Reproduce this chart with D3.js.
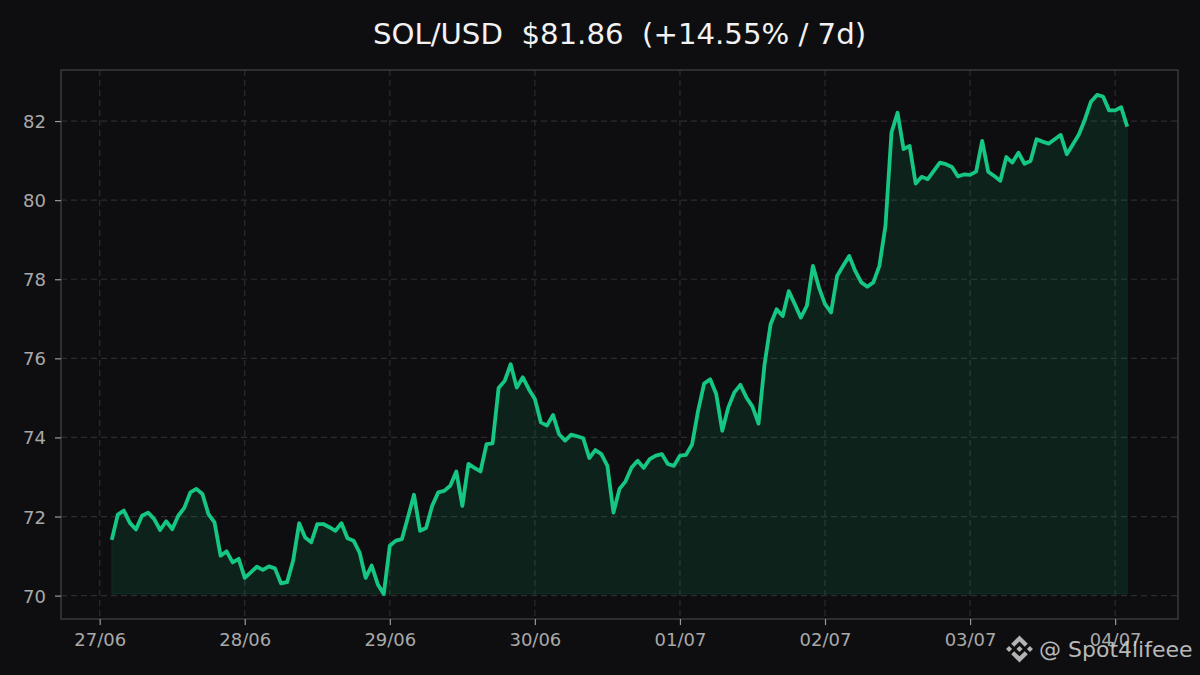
<!DOCTYPE html>
<html>
<head>
<meta charset="utf-8">
<script src="https://cdn.jsdelivr.net/npm/d3@7"></script>
<style>
  html, body { margin: 0; padding: 0; background: #0e0e10; }
  svg { display: block; }
</style>
</head>
<body>
<svg id="chart" width="1200" height="675"></svg>
<script>
// ---------- data ----------
const titleText = "SOL/USD  $81.86  (+14.55% / 7d)";
const watermarkText = "@ Spot4lifeee";
const startTime = "2025-06-27T02:00:00";   // first hourly sample
const stepHours = 1;
const prices = [
  71.41, 72.05, 72.15, 71.84, 71.67, 72.02, 72.10, 71.94, 71.66, 71.88,
  71.68, 72.02, 72.22, 72.61, 72.70, 72.57, 72.06, 71.85, 71.01, 71.12,
  70.84, 70.93, 70.45, 70.59, 70.73, 70.65, 70.74, 70.69, 70.31, 70.34,
  70.88, 71.83, 71.47, 71.35, 71.81, 71.81, 71.73, 71.64, 71.83, 71.45,
  71.39, 71.09, 70.45, 70.76, 70.29, 70.04, 71.26, 71.39, 71.43, 71.98,
  72.55, 71.64, 71.71, 72.27, 72.61, 72.65, 72.78, 73.14, 72.27, 73.33,
  73.23, 73.14, 73.83, 73.85, 75.25, 75.43, 75.85, 75.26, 75.52, 75.22,
  74.97, 74.38, 74.30, 74.57, 74.08, 73.92, 74.07, 74.03, 73.98, 73.48,
  73.68, 73.58, 73.28, 72.10, 72.70, 72.89, 73.24, 73.41, 73.23, 73.45,
  73.54, 73.58, 73.33, 73.28, 73.54, 73.56, 73.82, 74.67, 75.36, 75.47,
  75.10, 74.17, 74.76, 75.14, 75.33, 75.01, 74.78, 74.35, 75.85, 76.86,
  77.24, 77.07, 77.70, 77.37, 77.03, 77.33, 78.34, 77.79, 77.37, 77.16,
  78.08, 78.34, 78.59, 78.21, 77.92, 77.81, 77.92, 78.34, 79.35, 81.71,
  82.21, 81.29, 81.37, 80.42, 80.59, 80.53, 80.74, 80.95, 80.91, 80.84,
  80.60, 80.65, 80.64, 80.72, 81.50, 80.72, 80.61, 80.49, 81.09, 80.95,
  81.20, 80.92, 80.99, 81.54, 81.48, 81.43, 81.54, 81.65, 81.16, 81.41,
  81.66, 82.04, 82.49, 82.66, 82.62, 82.27, 82.27, 82.35, 81.86
];
const yTicks = [70, 72, 74, 76, 78, 80, 82];
const xTickDates = ["2025-06-27", "2025-06-28", "2025-06-29", "2025-06-30",
                    "2025-07-01", "2025-07-02", "2025-07-03", "2025-07-04"];
const xTickLabels = ["27/06", "28/06", "29/06", "30/06", "01/07", "02/07", "03/07", "04/07"];

// ---------- build series ----------
const t0 = new Date(startTime);
const series = prices.map((p, i) => ({ t: new Date(t0.getTime() + i * stepHours * 3600e3), v: p }));

// ---------- layout ----------
const W = 1200, H = 675;
const plot = { left: 61, right: 1178, top: 70, bottom: 619 };
const lineColor = "#16c784";
const FONT = "'DejaVu Sans', sans-serif";

const svg = d3.select("#chart");
svg.append("rect").attr("width", W).attr("height", H).attr("fill", "#0e0e10");

// scales with 5% margins (matplotlib-like)
const tExt = d3.extent(series, d => d.t);
const tPad = (tExt[1] - tExt[0]) * 0.05;
const x = d3.scaleTime()
  .domain([new Date(+tExt[0] - tPad), new Date(+tExt[1] + tPad)])
  .range([plot.left, plot.right]);
const vExt = d3.extent(series, d => d.v);
const vPad = (vExt[1] - vExt[0]) * 0.05;
const y = d3.scaleLinear()
  .domain([vExt[0] - vPad, vExt[1] + vPad])
  .range([plot.bottom, plot.top]);

const xTicks = xTickDates.map(s => new Date(s + "T00:00:00"));

// grid
const grid = svg.append("g");
grid.selectAll("line.h").data(yTicks).join("line")
  .attr("x1", plot.left).attr("x2", plot.right)
  .attr("y1", d => y(d)).attr("y2", d => y(d))
  .attr("stroke", "#2c2c30").attr("stroke-width", 1.2).attr("stroke-dasharray", "6,4");
grid.selectAll("line.v").data(xTicks).join("line")
  .attr("x1", d => x(d)).attr("x2", d => x(d))
  .attr("y1", plot.top).attr("y2", plot.bottom)
  .attr("stroke", "#2c2c30").attr("stroke-width", 1.2).attr("stroke-dasharray", "6,4");

// area down to the minimum
const baseV = vExt[0];
const area = d3.area().x(d => x(d.t)).y0(y(baseV)).y1(d => y(d.v));
svg.append("path").datum(series)
  .attr("d", area)
  .attr("fill", lineColor).attr("fill-opacity", 0.11)
  .attr("stroke", lineColor).attr("stroke-opacity", 0.12).attr("stroke-width", 1);

// line
const line = d3.line().x(d => x(d.t)).y(d => y(d.v));
svg.append("path").datum(series)
  .attr("d", line)
  .attr("fill", "none").attr("stroke", lineColor)
  .attr("stroke-width", 3.8).attr("stroke-linejoin", "round").attr("stroke-linecap", "butt");

// frame
svg.append("rect")
  .attr("x", plot.left).attr("y", plot.top)
  .attr("width", plot.right - plot.left).attr("height", plot.bottom - plot.top)
  .attr("fill", "none").attr("stroke", "#3a3a3d").attr("stroke-width", 1.5);

// axes
const yAxis = d3.axisLeft(y).tickValues(yTicks).tickSize(6).tickPadding(9).tickFormat(d3.format("d"));
const gy = svg.append("g").attr("transform", `translate(${plot.left},0)`).call(yAxis);
const xAxis = d3.axisBottom(x).tickValues(xTicks).tickSize(6).tickPadding(8)
  .tickFormat((d, i) => xTickLabels[i]);
const gx = svg.append("g").attr("transform", `translate(0,${plot.bottom})`).call(xAxis);
[gx, gy].forEach(g => {
  g.select(".domain").remove();
  g.selectAll(".tick line").attr("stroke", "#9a9a9a").attr("stroke-width", 1.2);
  g.selectAll(".tick text").attr("fill", "#a9a9a9")
    .style("font-family", FONT).style("font-size", "18px");
});
gy.selectAll(".tick text").attr("dy", "0.36em");
gx.selectAll(".tick text").attr("dy", "0.73em");

// title
svg.append("text")
  .attr("x", (plot.left + plot.right) / 2).attr("y", 44)
  .attr("text-anchor", "middle")
  .attr("fill", "#f2f2f2")
  .attr("xml:space", "preserve")
  .style("white-space", "pre")
  .style("font-family", FONT).style("font-size", "29.2px")
  .text(titleText);

// watermark
const wm = svg.append("g").attr("opacity", 0.85);
wm.append("path")
  .attr("transform", "translate(1006,635.5) scale(0.213)")
  .attr("fill", "#d0d0d0")
  .attr("d", "M38.73 53.2l24.59-24.58 24.6 24.6 14.3-14.31L63.32 0 24.43 38.9l14.3 14.3zM0 63.31l14.3-14.31 14.31 14.31-14.31 14.3L0 63.31zM38.73 73.41l24.59 24.59 24.6-24.6 14.31 14.29-38.9 38.91-38.91-38.88-.02-.02 14.33-14.29zM98 63.31L112.3 49l14.31 14.3-14.31 14.32L98 63.31zM77.83 63.3L63.32 48.78 52.59 59.51l-1.24 1.23-2.54 2.54-.02.02.02.03 14.51 14.5 14.51-14.52.01-.01-.01-.01z");
wm.append("text")
  .attr("x", 1039).attr("y", 657)
  .attr("fill", "#d6d6d6")
  .style("font-family", FONT).style("font-size", "22px")
  .text(watermarkText);
</script>
</body>
</html>
